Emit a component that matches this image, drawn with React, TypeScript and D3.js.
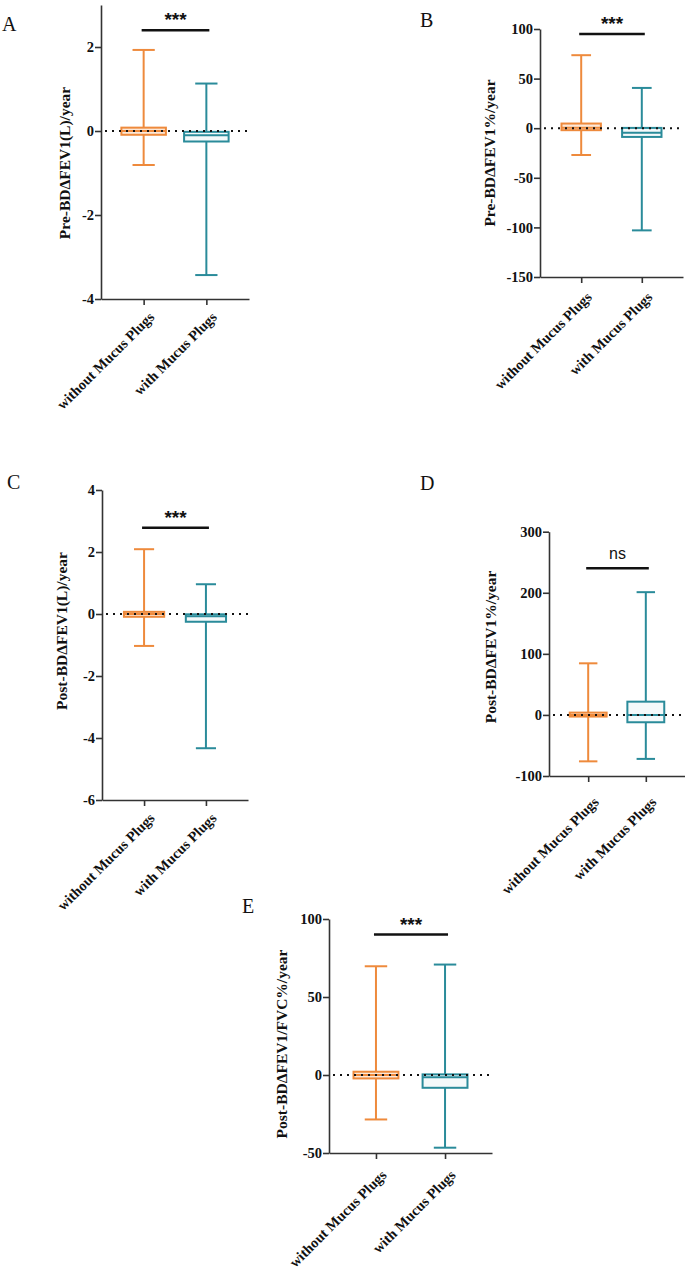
import { useEffect, useRef } from "react";
import * as d3 from "d3";

const groups = ["without Mucus Plugs", "with Mucus Plugs"];
const panelLetters = ["A", "B", "C", "D", "E"];
const yTitles = [
  "Pre-BDΔFEV1(L)/year",
  "Pre-BDΔFEV1%/year",
  "Post-BDΔFEV1(L)/year",
  "Post-BDΔFEV1%/year",
  "Post-BDΔFEV1/FVC%/year",
];
const yTicksA = [-4, -2, 0, 2];
const yTicksB = [-150, -100, -50, 0, 50, 100];
const yTicksC = [-6, -4, -2, 0, 2, 4];
const yTicksD = [-100, 0, 100, 200, 300];
const yTicksE = [-50, 0, 50, 100];

// [min, q1, median, q3, max] for each group
const boxesA = [
  [-0.81, -0.09, 0, 0.08, 1.93],
  [-3.43, -0.25, -0.1, -0.02, 1.13],
];
const boxesB = [
  [-27, -2, 0.5, 4.7, 73.6],
  [-103, -8.8, -4.7, 0.3, 40.6],
];
const boxesC = [
  [-1.03, -0.09, 0, 0.07, 2.09],
  [-4.33, -0.25, -0.07, -0.01, 0.96],
];
const boxesD = [
  [-76, -2.7, 0, 3.8, 84.5],
  [-72, -12, 0, 21.7, 201],
];
const boxesE = [
  [-28.5, -2.2, 0, 2.1, 69.7],
  [-46.6, -8.2, -1.5, 0.4, 70.8],
];
const sigLabels = ["***", "***", "***", "ns", "***"];
const sigLevels = [2.4, 95, 2.78, 240, 90];

const ticksList = [yTicksA, yTicksB, yTicksC, yTicksD, yTicksE];
const boxesList = [boxesA, boxesB, boxesC, boxesD, boxesE];

// pixel layout of each panel
const layout = [
  { x0: 101, x1: 249, y0: 5, y1: 299, domain: [-4, 3], tx: 70, ty: 163, lx: 2, ly: 31, bw: 0.71, lo: 0 },
  { x0: 540, x1: 683, y0: 29, y1: 277, domain: [-150, 100], tx: 495, ty: 153, lx: 420, ly: 27, bw: 0.65, lo: 2 },
  { x0: 102, x1: 248, y0: 490, y1: 800, domain: [-6, 4], tx: 67, ty: 631, lx: 7, ly: 489, bw: 0.65, lo: 0 },
  { x0: 549, x1: 685, y0: 531.7, y1: 776, domain: [-100, 300], tx: 496, ty: 647, lx: 420, ly: 490, bw: 0.64, lo: 8 },
  { x0: 329, x1: 492, y0: 919, y1: 1153, domain: [-50, 100], tx: 287, ty: 1044, lx: 242, ly: 913, bw: 0.65, lo: 4 },
];

const colors = ["#ee8a3c", "#2a8b9a"];
const fills = ["rgba(238,138,60,0.2)", "rgba(42,139,154,0.05)"];
const serif = "Liberation Serif, Times New Roman, serif";
const sans = "Liberation Sans, Arial, sans-serif";

const App = () => {
  const svgRef = useRef<SVGSVGElement | null>(null);

  useEffect(() => {
    document.body.style.margin = "0";
    const svg = d3.select(svgRef.current);
    svg.selectAll("*").remove();

    layout.forEach((p, i) => {
      const g = svg.append("g");
      const y = d3.scaleLinear().domain(p.domain).range([p.y1, p.y0]);
      const x = d3.scalePoint<string>().domain(groups).range([p.x0, p.x1]).padding(0.68);
      const step = x.step();
      const bw = step * p.bw;

      // y axis
      const yAxis = g
        .append("g")
        .attr("transform", `translate(${p.x0},0)`)
        .call(
          d3
            .axisLeft(y)
            .tickValues(ticksList[i])
            .tickSize(6)
            .tickSizeOuter(0)
            .tickFormat((d) => String(d))
        )
        .attr("font-family", serif)
        .attr("font-weight", "bold")
        .attr("font-size", 14.5);
      yAxis.select(".domain").attr("stroke", "#333").attr("stroke-width", 1.6);
      yAxis.selectAll(".tick line").attr("stroke", "#333").attr("stroke-width", 1.6);
      yAxis.selectAll(".tick text").attr("x", -7).attr("fill", "#111");

      // x axis
      const xAxis = g
        .append("g")
        .attr("transform", `translate(0,${p.y1})`)
        .call(d3.axisBottom(x).tickSize(6).tickSizeOuter(0))
        .attr("font-family", serif)
        .attr("font-weight", "bold")
        .attr("font-size", 14.5);
      xAxis.select(".domain").attr("stroke", "#333").attr("stroke-width", 1.6);
      xAxis.selectAll(".tick line").attr("stroke", "#333").attr("stroke-width", 1.6);
      xAxis
        .selectAll(".tick text")
        .attr("fill", "#111")
        .attr("text-anchor", "end")
        .attr("dy", 0)
        .attr("y", 0)
        .attr("transform", `translate(11,${19 + p.lo}) rotate(-45)`);

      // boxes
      boxesList[i].forEach((b, k) => {
        const cx = x(groups[k]) as number;
        const [mn, q1, md, q3, mx] = b;
        const c = colors[k];
        const bg = g.append("g").attr("stroke", c).attr("stroke-width", 2).attr("fill", "none");
        bg.append("line").attr("x1", cx).attr("x2", cx).attr("y1", y(mx)).attr("y2", y(q3));
        bg.append("line").attr("x1", cx).attr("x2", cx).attr("y1", y(q1)).attr("y2", y(mn));
        bg.append("line").attr("x1", cx - bw / 4).attr("x2", cx + bw / 4).attr("y1", y(mx)).attr("y2", y(mx));
        bg.append("line").attr("x1", cx - bw / 4).attr("x2", cx + bw / 4).attr("y1", y(mn)).attr("y2", y(mn));
        bg.append("rect")
          .attr("x", cx - bw / 2)
          .attr("width", bw)
          .attr("y", y(q3))
          .attr("height", Math.max(y(q1) - y(q3), 1))
          .attr("fill", fills[k]);
        bg.append("line").attr("x1", cx - bw / 2).attr("x2", cx + bw / 2).attr("y1", y(md)).attr("y2", y(md));
      });

      // zero line
      g.append("line")
        .attr("x1", p.x0 + 4)
        .attr("x2", p.x1)
        .attr("y1", y(0))
        .attr("y2", y(0))
        .attr("stroke", "#111")
        .attr("stroke-width", 2)
        .attr("stroke-dasharray", "2 5");

      // significance
      const sy = y(sigLevels[i]);
      const s0 = (x(groups[0]) as number) - 2;
      const s1 = (x(groups[1]) as number) + 3;
      g.append("line")
        .attr("x1", s0)
        .attr("x2", s1)
        .attr("y1", sy)
        .attr("y2", sy)
        .attr("stroke", "#111")
        .attr("stroke-width", 2.5);
      const isNs = sigLabels[i] === "ns";
      g.append("text")
        .attr("x", (s0 + s1) / 2)
        .attr("y", isNs ? sy - 9 : sy - 4)
        .attr("text-anchor", "middle")
        .attr("font-family", sans)
        .attr("font-weight", isNs ? "normal" : "bold")
        .attr("font-size", isNs ? 16 : 19)
        .attr("fill", "#111")
        .text(sigLabels[i]);

      // y title
      g.append("text")
        .attr("transform", `translate(${p.tx},${p.ty}) rotate(-90)`)
        .attr("text-anchor", "middle")
        .attr("font-family", serif)
        .attr("font-weight", "bold")
        .attr("font-size", 15.5)
        .attr("fill", "#111")
        .text(yTitles[i]);

      // panel letter
      g.append("text")
        .attr("x", p.lx)
        .attr("y", p.ly)
        .attr("font-family", serif)
        .attr("font-size", 20)
        .attr("fill", "#111")
        .text(panelLetters[i]);
    });
  }, []);

  return <svg ref={svgRef} width={685} height={1269} style={{ display: "block", background: "#fff" }} />;
};

export default App;
